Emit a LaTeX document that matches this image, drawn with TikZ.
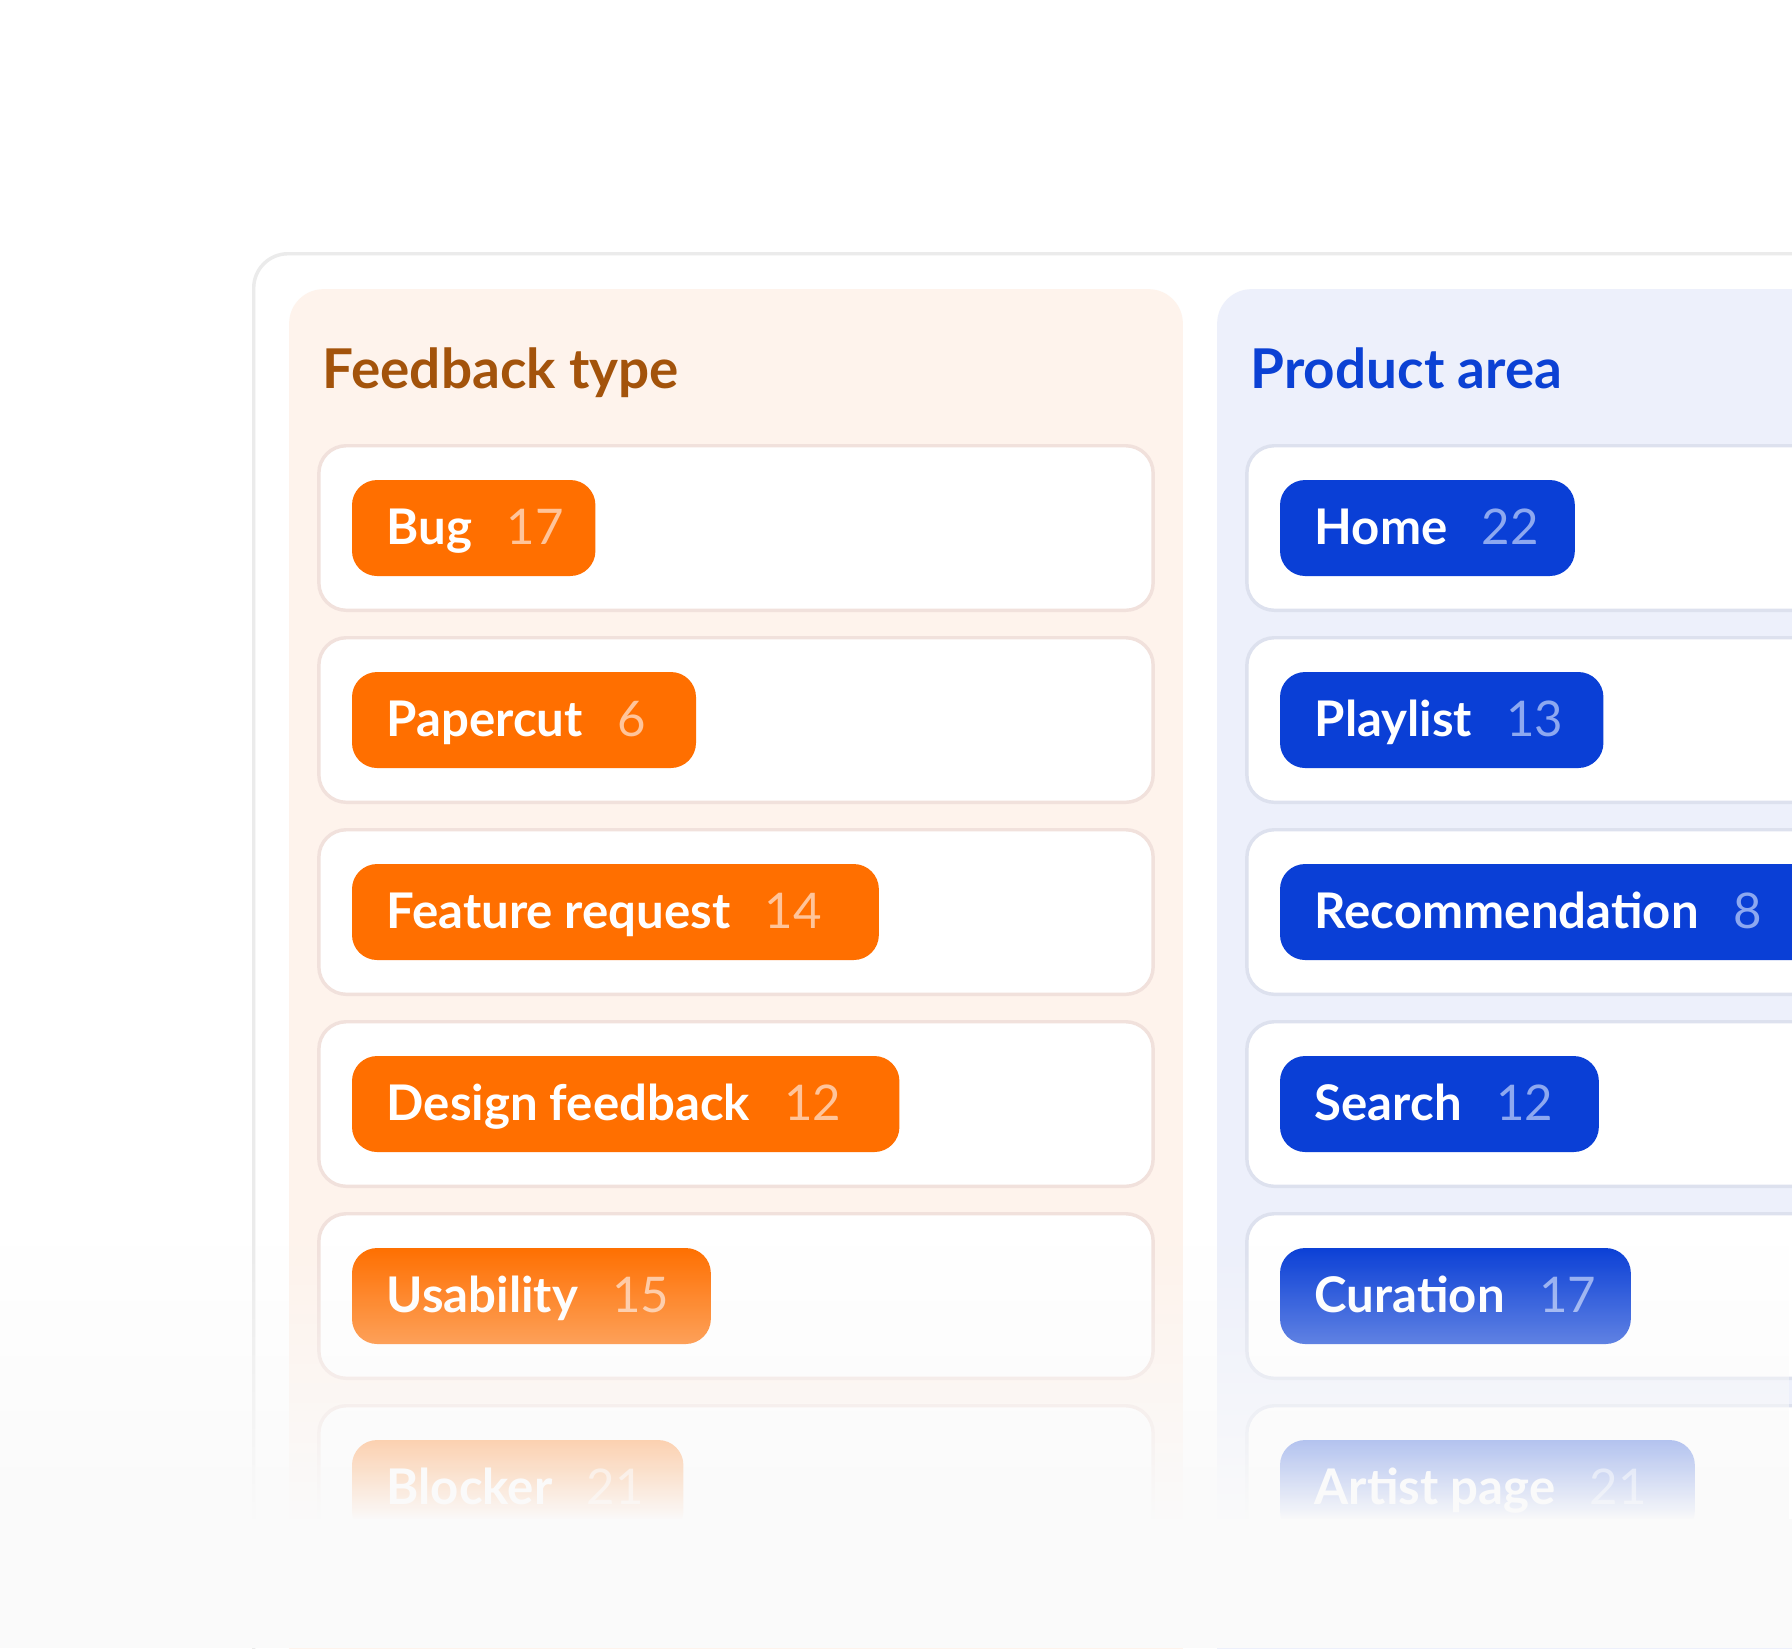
\documentclass[tikz,border=0pt]{standalone}
\usepackage{fontspec}
\setmainfont{Lato}
\usetikzlibrary{fadings}
\definecolor{otag}{HTML}{FF6F00}
\definecolor{onum}{HTML}{FFC49A}
\definecolor{btag}{HTML}{0A3FD6}
\definecolor{bnum}{HTML}{8DA8F0}
\definecolor{opanel}{HTML}{FEF3EC}
\definecolor{bpanel}{HTML}{EDF0FB}
\definecolor{otitle}{HTML}{A3530B}
\definecolor{btitle}{HTML}{0B41D4}
\definecolor{oline}{HTML}{F1E1DC}
\definecolor{bline}{HTML}{DDE1EE}
\begin{document}
\begin{tikzpicture}[x=0.5pt,y=-0.5pt,
  rowbox/.style={draw=#1,line width=1.5pt,fill=white,rounded corners=12pt},
  tagbox/.style={fill=#1,rounded corners=11pt},
  tagtxt/.style={anchor=base west,text=white,font=\fontsize{21.5}{24}\selectfont\bfseries,inner sep=0},
  numtxt/.style={anchor=base west,font=\fontsize{21}{24}\selectfont,inner sep=0}]
\useasboundingbox (0,0) rectangle (1568,1442);
\clip (0,0) rectangle (1568,1442);
\fill[white] (0,0) rectangle (1568,1442);
\draw[black!8,line width=1.5pt,rounded corners=15pt] (1600,222) -- (222,222) -- (222,1500);
\fill[opanel,rounded corners=15pt] (253,253) rectangle (1035,1500);
\fill[bpanel,rounded corners=15pt] (1065,253) rectangle (1700,1500);
\node[anchor=base west,inner sep=0,text=otitle,font=\fontsize{24}{26}\selectfont\bfseries] (t1) at (282,340) {Feedback type};
\node[anchor=base west,inner sep=0,text=btitle,font=\fontsize{24}{26}\selectfont\bfseries] (t2) at (1094,340) {Product area};
\foreach \i/\a/\an/\aw/\b/\bn/\bw in {0/Bug/17/521/Home/22/1378,1/Papercut/6/609/Playlist/13/1403,2/Feature request/14/769/Recommendation/8/1620,3/Design feedback/12/787/Search/12/1399,4/Usability/15/622/Curation/17/1427,5/Blocker/21/598/Artist page/21/1483}{
  \pgfmathsetmacro{\y}{390+168*\i}
  \draw[rowbox=oline] (279,\y) rectangle (1009,\y+144);
  \draw[rowbox=bline] (1091,\y) rectangle (1700,\y+144);
  \fill[tagbox=otag] (308,\y+30) rectangle (\aw,\y+114);
  \fill[tagbox=btag] (1120,\y+30) rectangle (\bw,\y+114);
  \node[tagtxt] (a\i) at (338,\y+86) {\a\hspace{15pt}\textcolor{onum}{\mdseries\an}};
  \node[tagtxt] (b\i) at (1150,\y+86) {\b\hspace{15pt}\textcolor{bnum}{\mdseries\bn}};
}
\fill[white!98!black,path fading=north] (0,1090) rectangle (1568,1330);
\fill[white!98!black] (0,1329) rectangle (1568,1442);
\end{tikzpicture}
\end{document}
